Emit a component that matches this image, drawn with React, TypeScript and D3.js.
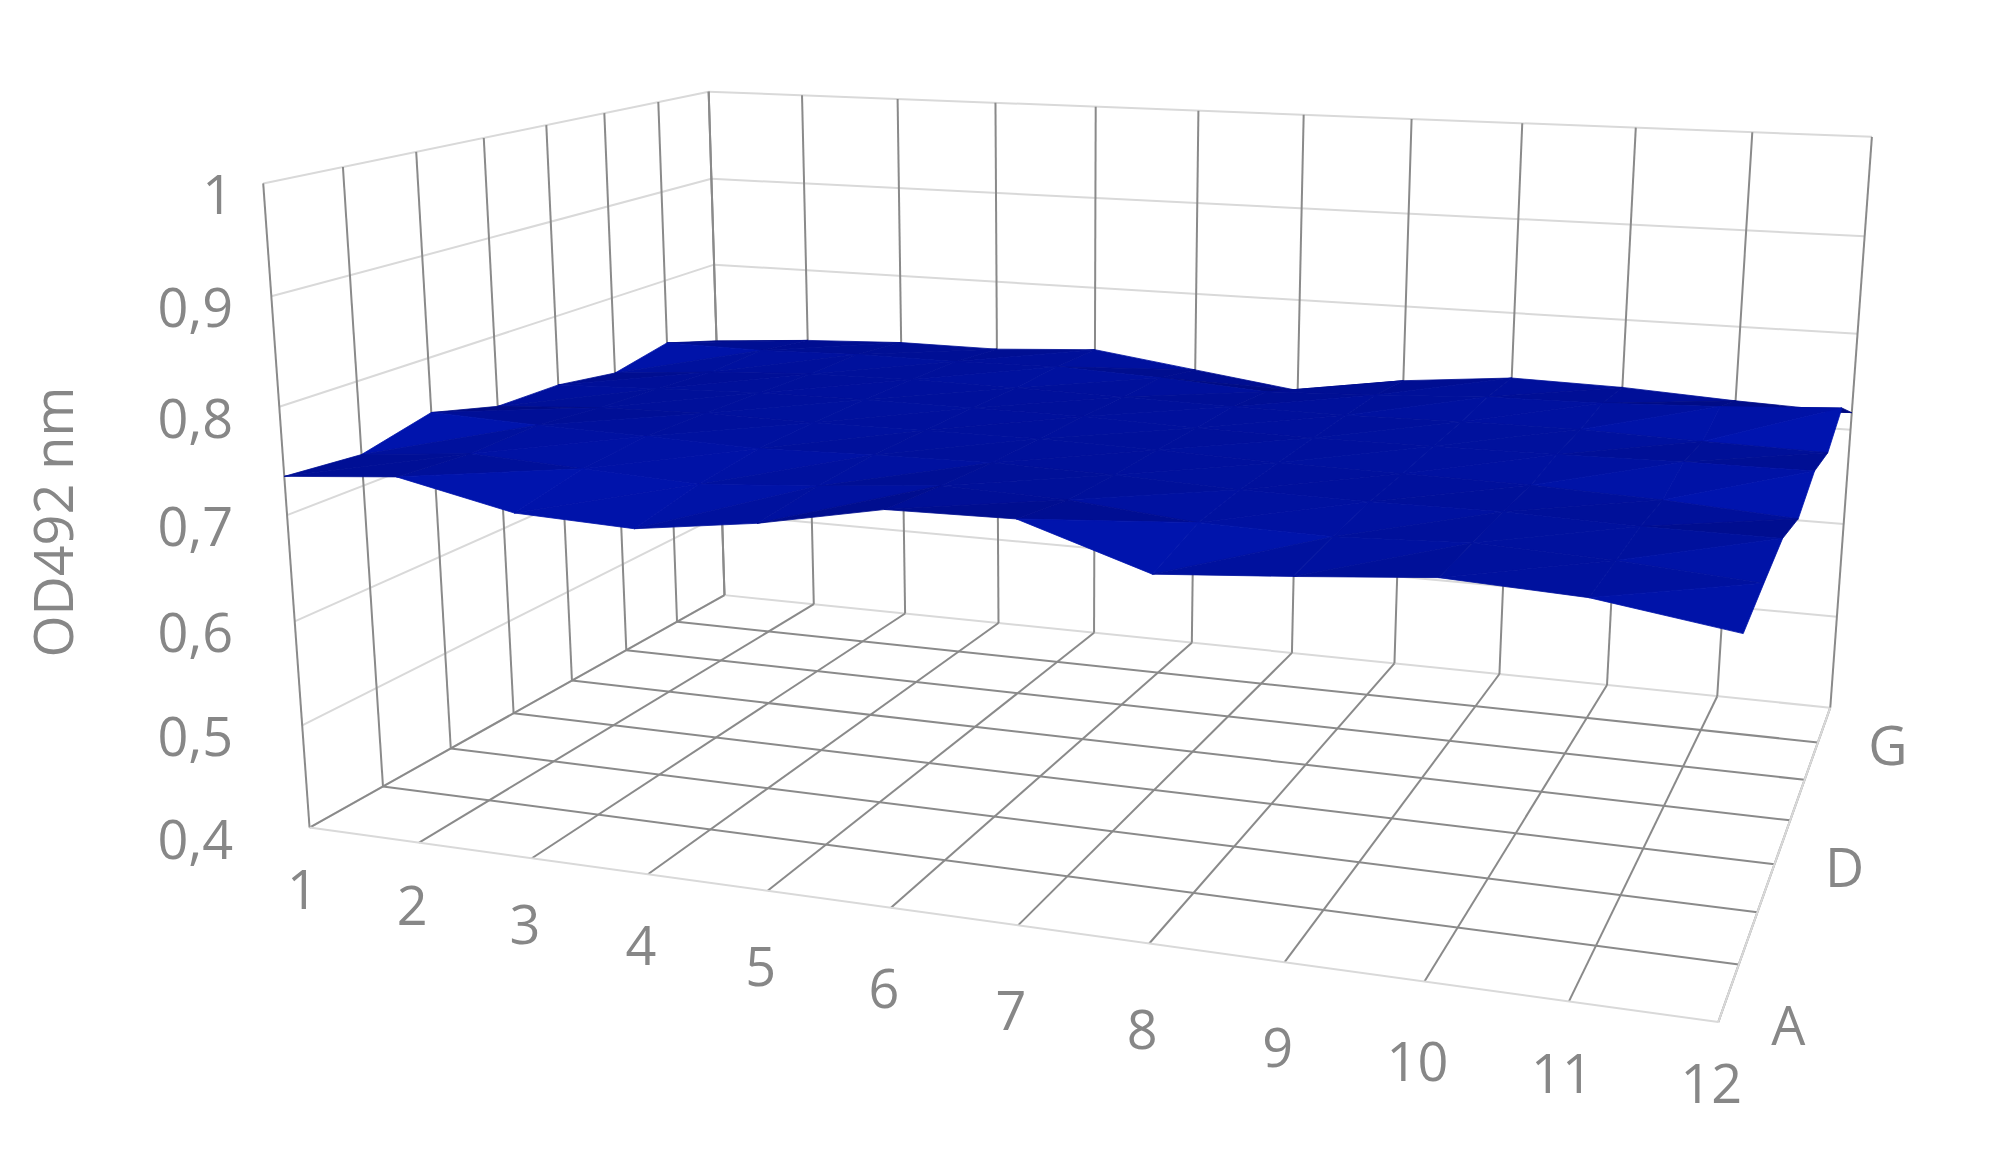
import * as d3 from 'd3';

const categories = ['1', '2', '3', '4', '5', '6', '7', '8', '9', '10', '11', '12'];
const series = ['A', 'B', 'C', 'D', 'E', 'F', 'G', 'H'];
const seriesTickLabels = ['A', 'D', 'G'];
const valueTicks = [0.4, 0.5, 0.6, 0.7, 0.8, 0.9, 1];
const valueTickLabels = ['0,4', '0,5', '0,6', '0,7', '0,8', '0,9', '1'];

// OD492 per well, one array per plate row (columns 1..12)
const rowA = [0.736, 0.745, 0.722, 0.718, 0.733, 0.755, 0.757, 0.721, 0.730, 0.740, 0.735, 0.718];
const rowB = [0.730, 0.740, 0.735, 0.730, 0.738, 0.748, 0.745, 0.735, 0.733, 0.738, 0.734, 0.726];
const rowC = [0.746, 0.742, 0.740, 0.737, 0.740, 0.742, 0.740, 0.736, 0.735, 0.736, 0.733, 0.733];
const rowD = [0.728, 0.735, 0.738, 0.737, 0.738, 0.739, 0.737, 0.734, 0.733, 0.732, 0.728, 0.721];
const rowE = [0.727, 0.731, 0.735, 0.736, 0.736, 0.736, 0.733, 0.732, 0.733, 0.734, 0.736, 0.737];
const rowF = [0.717, 0.726, 0.732, 0.734, 0.733, 0.732, 0.730, 0.730, 0.732, 0.733, 0.730, 0.728];
const rowG = [0.729, 0.728, 0.731, 0.731, 0.733, 0.729, 0.722, 0.727, 0.733, 0.735, 0.740, 0.747];
const rowH = [0.710, 0.718, 0.723, 0.723, 0.730, 0.715, 0.700, 0.719, 0.730, 0.728, 0.722, 0.718];
const rows = [rowA, rowB, rowC, rowD, rowE, rowF, rowG, rowH];

const W = 2000;
const H = 1158;
const NX = 1000, NY = 580, NS = 1000;

// where the plot box sits on screen: [x, y, z] in the unit box -> px
const BOX_ANCHORS: number[][] = [
    [0, 0, 0, 308, 828],
    [0, 1, 0, 262, 183],
    [0, 0, 1, 724, 595],
    [0, 1, 1, 708, 92],
    [1, 0, 1, 1832, 707],
    [1, 1, 1, 1873, 136],
    [1, 0, 0, 1720, 1023],
    [0, 5 / 6, 0, 272, 296],
    [0, 2 / 3, 0, 280, 407],
    [0, 1 / 2, 0, 287, 514],
    [0, 1 / 6, 0, 301, 726],
    [1 / 11, 0, 0, 420, 843],
    [2 / 11, 0, 0, 533, 857],
    [3 / 11, 0, 0, 648, 874],
    [4 / 11, 0, 0, 768, 891],
    [5 / 11, 0, 0, 892, 907],
    [6 / 11, 0, 0, 1018, 925],
    [7 / 11, 0, 0, 1150, 944],
    [8 / 11, 0, 0, 1285, 962],
    [1, 0, 1 / 7, 1737, 965],
    [1, 0, 2 / 7, 1756, 913],
    [1, 0, 3 / 7, 1773, 865],
    [1, 0, 4 / 7, 1790, 821],
    [1, 0, 5 / 7, 1804, 779],
    [1, 0, 6 / 7, 1818, 742],
    [1 / 11, 1, 1, 803, 96],
    [2 / 11, 1, 1, 898, 100],
    [3 / 11, 1, 1, 996, 103],
    [4 / 11, 1, 1, 1095, 106],
    [8 / 11, 1, 1, 1522, 123],
    [9 / 11, 1, 1, 1635, 127.5],
    [10 / 11, 1, 1, 1752, 132.5],
];

type Mat = number[][];

// least-squares perspective camera (DLT) through the box anchors
function fitProjection(anchors: number[][]): Mat {
    const A: number[][] = [];
    const b: number[] = [];
    anchors.forEach(([X, Y, Z, px, py]) => {
        const u = (px - NX) / NS, v = (py - NY) / NS;
        A.push([X, Y, Z, 1, 0, 0, 0, 0, -u * X, -u * Y, -u * Z]); b.push(u);
        A.push([0, 0, 0, 0, X, Y, Z, 1, -v * X, -v * Y, -v * Z]); b.push(v);
    });
    const n = 11;
    const M = d3.range(n).map(() => new Array(n + 1).fill(0));
    A.forEach((r, k) => {
        for (let i = 0; i < n; i++) {
            for (let j = 0; j < n; j++) M[i][j] += r[i] * r[j];
            M[i][n] += r[i] * b[k];
        }
    });
    for (let c = 0; c < n; c++) {
        let piv = c;
        for (let r = c + 1; r < n; r++) if (Math.abs(M[r][c]) > Math.abs(M[piv][c])) piv = r;
        [M[c], M[piv]] = [M[piv], M[c]];
        for (let r = 0; r < n; r++) {
            if (r === c) continue;
            const f = M[r][c] / M[c][c];
            for (let j = c; j <= n; j++) M[r][j] -= f * M[c][j];
        }
    }
    const p = M.map((r, i) => r[n] / r[i]);
    return [[p[0], p[1], p[2], p[3]], [p[4], p[5], p[6], p[7]], [p[8], p[9], p[10], 1]];
}

const P = fitProjection(BOX_ANCHORS);

function project(X: number, Y: number, Z: number): [number, number, number] {
    const dot = (r: number[]) => r[0] * X + r[1] * Y + r[2] * Z + r[3];
    const w = dot(P[2]);
    return [(dot(P[0]) / w) * NS + NX, (dot(P[1]) / w) * NS + NY, w];
}

const x = d3.scalePoint<string>().domain(categories).range([0, 1]);
const z = d3.scalePoint<string>().domain(series).range([0, 1]);
const y = d3.scaleLinear().domain([0.4, 1]).range([0, 1]);

const DARK = '#8a8a8a';
const LIGHT = '#d9d9d9';
const TEXT = '#878787';
const FONT = '"Open Sans", "Noto Sans", sans-serif';

const seg = (a: number[], b: number[]) => `M${a[0]},${a[1]}L${b[0]},${b[1]}`;

const shade = d3.interpolateRgb('#000b82', '#0017bc');
const LIGHT_DIR = (() => {
    const v = [0.2, 1, -0.6];
    const l = Math.hypot(...v);
    return v.map(d => d / l);
})();
const PHYS = [2.4, 1, 1.1];

export default function App() {
    const wallLight: string[] = [];
    const wallDark: string[] = [];
    const floorDark: string[] = [];
    const axisLines: string[] = [];

    valueTicks.forEach(v => {
        wallLight.push(seg(project(0, y(v), 0), project(0, y(v), 1)));
        wallLight.push(seg(project(0, y(v), 1), project(1, y(v), 1)));
    });
    series.forEach(s => wallDark.push(seg(project(0, 0, z(s)!), project(0, 1, z(s)!))));
    categories.forEach(c => wallDark.push(seg(project(x(c)!, 0, 1), project(x(c)!, 1, 1))));
    categories.forEach(c => floorDark.push(seg(project(x(c)!, 0, 0), project(x(c)!, 0, 1))));
    series.slice(1, -1).forEach(s => floorDark.push(seg(project(0, 0, z(s)!), project(1, 0, z(s)!))));
    axisLines.push(seg(project(0, 0, 0), project(1, 0, 0)));
    axisLines.push(seg(project(1, 0, 0), project(1, 0, 1)));

    // surface facets, two triangles per cell, painted back to front
    const tris: { d: string; depth: number; fill: string }[] = [];
    for (let r = 0; r < series.length - 1; r++) {
        for (let i = 0; i < categories.length - 1; i++) {
            const pt = (ii: number, rr: number) => [x(categories[ii])!, y(rows[rr][ii]), z(series[rr])!];
            const halves = [
                [pt(i, r), pt(i + 1, r), pt(i + 1, r + 1)],
                [pt(i, r), pt(i + 1, r + 1), pt(i, r + 1)],
            ];
            halves.forEach(t => {
                const q = t.map(p => p.map((d, k) => d * PHYS[k]));
                const e1 = [0, 1, 2].map(k => q[1][k] - q[0][k]);
                const e2 = [0, 1, 2].map(k => q[2][k] - q[0][k]);
                let n = [e1[1] * e2[2] - e1[2] * e2[1], e1[2] * e2[0] - e1[0] * e2[2], e1[0] * e2[1] - e1[1] * e2[0]];
                const len = Math.hypot(...n);
                n = n.map(d => d / len);
                if (n[1] < 0) n = n.map(d => -d);
                const lit = n[0] * LIGHT_DIR[0] + n[1] * LIGHT_DIR[1] + n[2] * LIGHT_DIR[2];
                const sp = t.map(p => project(p[0], p[1], p[2]));
                tris.push({
                    d: `M${sp.map(p => `${p[0]},${p[1]}`).join('L')}Z`,
                    depth: d3.mean(sp, p => p[2])!,
                    fill: shade(Math.max(0, Math.min(1, (lit - 0.7) / 0.3))),
                });
            });
        }
    }
    tris.sort((a, b) => b.depth - a.depth);

    const labelRight = d3.min(valueTicks, v => project(0, y(v), 0)[0])! - 30;

    return (
        <svg width={W} height={H} style={{ position: 'absolute', left: 0, top: 0, background: '#fff' }}
            fontFamily={FONT}>
            <g fill="none" strokeWidth={2}>
                {wallLight.map((d, i) => <path key={`wl${i}`} d={d} stroke={LIGHT} />)}
                {wallDark.map((d, i) => <path key={`wd${i}`} d={d} stroke={DARK} />)}
                {floorDark.map((d, i) => <path key={`fd${i}`} d={d} stroke={DARK} />)}
                {axisLines.map((d, i) => <path key={`ax${i}`} d={d} stroke={LIGHT} />)}
            </g>
            <g>
                {tris.map((t, i) => (
                    <path key={`t${i}`} d={t.d} fill={t.fill} stroke={t.fill} strokeWidth={0.8} strokeLinejoin="round" />
                ))}
            </g>
            <g fill={TEXT} fontSize={54}>
                {valueTicks.map((v, i) => (
                    <text key={`v${v}`} x={labelRight} y={project(0, y(v), 0)[1] + 10}
                        textAnchor="end" dominantBaseline="central">{valueTickLabels[i]}</text>
                ))}
                {categories.map((c, i) => {
                    const p = project(x(c)!, 0, 0);
                    const t = i / (categories.length - 1);
                    return (
                        <text key={`c${c}`} x={p[0] - 7} y={p[1] + 60 + 25 * Math.sin(Math.PI * Math.pow(t, 1.6))}
                            textAnchor="middle" dominantBaseline="central">{c}</text>
                    );
                })}
                {seriesTickLabels.map(s => {
                    const p = project(1, 0, z(s)!);
                    return (
                        <text key={`s${s}`} x={p[0] + 70} y={p[1] + 2}
                            textAnchor="middle" dominantBaseline="central">{s}</text>
                    );
                })}
                <text transform="translate(52,522) rotate(-90)" textAnchor="middle" dominantBaseline="central">OD492 nm</text>
            </g>
        </svg>
    );
}
